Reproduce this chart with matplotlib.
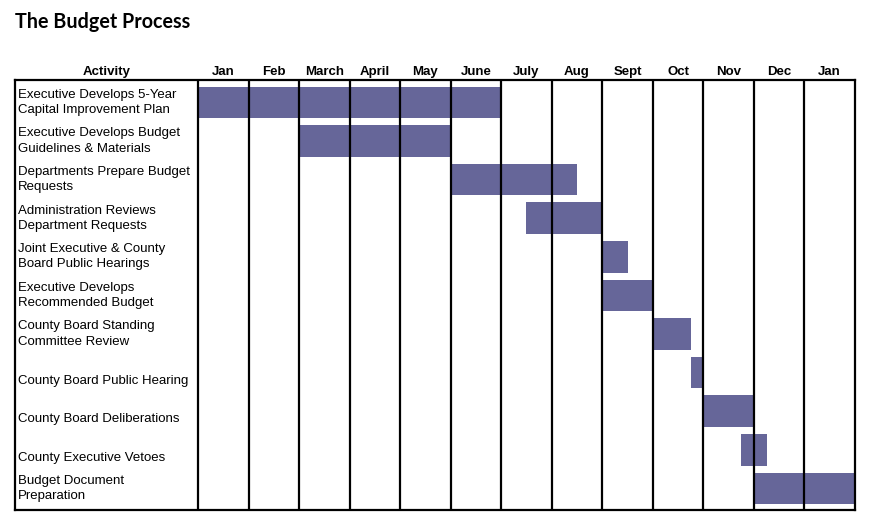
import matplotlib.pyplot as plt
import matplotlib as mpl

activities = ['Executive Develops 5-Year\nCapital Improvement Plan',
              'Executive Develops Budget\nGuidelines & Materials',
              'Departments Prepare Budget\nRequests',
              'Administration Reviews\nDepartment Requests',
              'Joint Executive & County\nBoard Public Hearings',
              'Executive Develops\nRecommended Budget',
              'County Board Standing\nCommittee Review',
              'County Board Public Hearing',
              'County Board Deliberations',
              'County Executive Vetoes',
              'Budget Document\nPreparation']

# start / end in months from the first January
starts = [0, 2, 5, 6.5, 8, 8, 9, 9.75, 10, 10.75, 11]
ends = [6, 5, 7.5, 8, 8.5, 9, 9.75, 10, 11, 11.25, 13]

months = ['Jan', 'Feb', 'March', 'April', 'May', 'June', 'July',
          'Aug', 'Sept', 'Oct', 'Nov', 'Dec', 'Jan']

mpl.rc('font', family=['Liberation Sans', 'DejaVu Sans'])

fig = plt.figure(figsize=(8.9, 5.27), dpi=100)
ax = fig.add_axes([15/890, 17/527, 840/890, 430/527])

xleft = -3.62
ax.set_xlim(xleft, 13)
ax.set_ylim(10.56, -0.58)

bar_color = '#666699'
for i, (s, e) in enumerate(zip(starts, ends)):
    ax.barh(i, e - s, left=s, height=0.82, color=bar_color, zorder=1)

for x in range(0, 13):
    ax.axvline(x, color='black', linewidth=1.6, zorder=2)

for sp in ax.spines.values():
    sp.set_linewidth(1.6)
    sp.set_zorder(3)
ax.set_xticks([])
ax.set_yticks([])

for i, act in enumerate(activities):
    # one-line labels sit on the lower line of the cell
    y = i if '\n' in act else i + 0.21
    ax.text(xleft + 0.06, y, act, ha='left', va='center', fontsize=9.5,
            linespacing=1.35)

ax.text(xleft / 2, 1.005, 'Activity', transform=ax.get_xaxis_transform(),
        ha='center', va='bottom', fontsize=9.5, fontweight='bold')
for j, m in enumerate(months):
    ax.text(j + 0.5, 1.005, m, transform=ax.get_xaxis_transform(),
            ha='center', va='bottom', fontsize=9.5, fontweight='bold')

fig.text(15/890, 1 - 22/527, 'The Budget Process', ha='left', va='center',
         fontsize=14.2, fontweight='bold', family=['Lato', 'DejaVu Sans'])

fig.savefig('out.png', dpi=100)
